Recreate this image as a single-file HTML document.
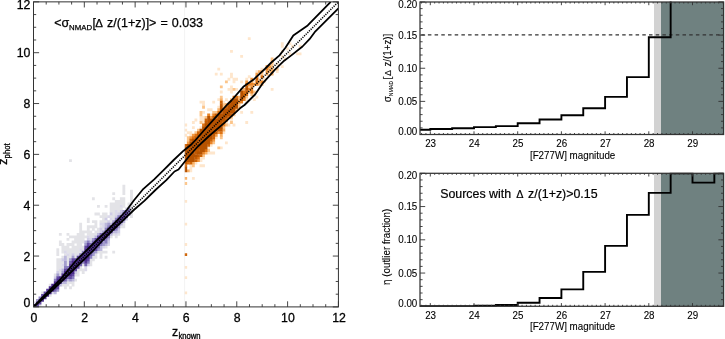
<!DOCTYPE html>
<html lang="en"><head><meta charset="utf-8"><title>Photometric redshift accuracy</title>
<style>html,body{margin:0;padding:0;background:#fff}svg{display:block;filter:blur(0.3px)}text{stroke:#000}</style></head>
<body>
<svg width="725" height="339" viewBox="0 0 725 339" font-family='"Liberation Sans", "DejaVu Sans", sans-serif' fill="#000">
<rect width="725" height="339" fill="#fff"/>
<g id="hist-purple"><path fill="#e3e3e7" d="M38.58 304.1h2.84v2.8h-2.84zM48.75 293.94h2.84v2.84h-2.84zM41.12 291.39h2.84v2.84h-2.84zM63.99 286.31h2.84v2.84h-2.84zM69.07 286.31h2.84v2.84h-2.84zM48.75 283.77h2.84v2.84h-2.84zM61.45 283.77h7.92v2.84h-7.92zM71.62 283.77h2.84v2.84h-2.84zM66.53 281.23h7.92v2.84h-7.92zM74.16 278.68h2.84v2.84h-2.84zM53.83 273.6h2.84v2.84h-2.84zM74.16 273.6h5.38v2.84h-5.38zM58.91 271.06h2.84v2.84h-2.84zM76.7 271.06h2.84v2.84h-2.84zM81.78 271.06h2.84v2.84h-2.84zM56.37 268.52h2.84v2.84h-2.84zM76.7 268.52h7.92v2.84h-7.92zM56.37 265.97h7.92v2.84h-7.92zM79.24 265.97h2.84v2.84h-2.84zM56.37 263.43h5.38v2.84h-5.38zM66.53 263.43h2.84v2.84h-2.84zM81.78 263.43h2.84v2.84h-2.84zM89.4 263.43h2.84v2.84h-2.84zM56.37 260.89h7.92v2.84h-7.92zM66.53 260.89h2.84v2.84h-2.84zM89.4 260.89h2.84v2.84h-2.84zM56.37 258.35h5.38v2.84h-5.38zM66.53 258.35h2.84v2.84h-2.84zM89.4 258.35h5.38v2.84h-5.38zM61.45 255.81h2.84v2.84h-2.84zM66.53 255.81h5.38v2.84h-5.38zM74.16 255.81h2.84v2.84h-2.84zM91.94 255.81h5.38v2.84h-5.38zM99.57 255.81h2.84v2.84h-2.84zM104.65 255.81h2.84v2.84h-2.84zM56.37 253.26h2.84v2.84h-2.84zM63.99 253.26h2.84v2.84h-2.84zM69.07 253.26h2.84v2.84h-2.84zM74.16 253.26h2.84v2.84h-2.84zM94.48 253.26h2.84v2.84h-2.84zM99.57 253.26h2.84v2.84h-2.84zM56.37 250.72h2.84v2.84h-2.84zM61.45 250.72h2.84v2.84h-2.84zM66.53 250.72h15.55v2.84h-15.55zM97.03 250.72h10.46v2.84h-10.46zM112.27 250.72h2.84v2.84h-2.84zM56.37 248.18h2.84v2.84h-2.84zM61.45 248.18h18.09v2.84h-18.09zM81.78 248.18h2.84v2.84h-2.84zM61.45 245.64h7.92v2.84h-7.92zM71.62 245.64h13v2.84h-13zM104.65 245.64h2.84v2.84h-2.84zM58.91 243.1h5.38v2.84h-5.38zM66.53 243.1h7.92v2.84h-7.92zM76.7 243.1h5.38v2.84h-5.38zM58.91 240.55h2.84v2.84h-2.84zM71.62 240.55h13v2.84h-13zM66.53 238.01h2.84v2.84h-2.84zM74.16 238.01h10.46v2.84h-10.46zM69.07 235.47h18.09v2.84h-18.09zM89.4 235.47h5.38v2.84h-5.38zM109.73 235.47h2.84v2.84h-2.84zM114.81 235.47h2.84v2.84h-2.84zM58.91 232.93h2.84v2.84h-2.84zM66.53 232.93h2.84v2.84h-2.84zM76.7 232.93h7.92v2.84h-7.92zM86.86 232.93h10.46v2.84h-10.46zM112.27 232.93h2.84v2.84h-2.84zM117.35 232.93h2.84v2.84h-2.84zM79.24 230.39h13v2.84h-13zM94.48 230.39h5.38v2.84h-5.38zM79.24 227.84h2.84v2.84h-2.84zM86.86 227.84h2.84v2.84h-2.84zM91.94 227.84h2.84v2.84h-2.84zM97.03 227.84h2.84v2.84h-2.84zM102.11 227.84h2.84v2.84h-2.84zM79.24 225.3h2.84v2.84h-2.84zM86.86 225.3h10.46v2.84h-10.46zM99.57 225.3h2.84v2.84h-2.84zM119.89 225.3h5.38v2.84h-5.38zM79.24 222.76h2.84v2.84h-2.84zM94.48 222.76h2.84v2.84h-2.84zM122.44 222.76h2.84v2.84h-2.84zM86.86 220.22h2.84v2.84h-2.84zM91.94 220.22h5.38v2.84h-5.38zM99.57 220.22h7.92v2.84h-7.92zM109.73 220.22h2.84v2.84h-2.84zM86.86 217.68h2.84v2.84h-2.84zM102.11 217.68h2.84v2.84h-2.84zM112.27 217.68h2.84v2.84h-2.84zM99.57 215.13h7.92v2.84h-7.92zM109.73 215.13h5.38v2.84h-5.38zM130.06 215.13h2.84v2.84h-2.84zM94.48 212.59h5.38v2.84h-5.38zM102.11 212.59h5.38v2.84h-5.38zM112.27 212.59h2.84v2.84h-2.84zM130.06 212.59h2.84v2.84h-2.84zM109.73 210.05h5.38v2.84h-5.38zM117.35 210.05h2.84v2.84h-2.84zM130.06 210.05h2.84v2.84h-2.84zM109.73 207.51h13v2.84h-13zM130.06 207.51h2.84v2.84h-2.84zM97.03 204.97h2.84v2.84h-2.84zM104.65 204.97h2.84v2.84h-2.84zM109.73 204.97h10.46v2.84h-10.46zM122.44 204.97h2.84v2.84h-2.84zM127.52 204.97h5.38v2.84h-5.38zM109.73 202.42h15.55v2.84h-15.55zM127.52 202.42h5.38v2.84h-5.38zM114.81 199.88h10.46v2.84h-10.46zM130.06 199.88h2.84v2.84h-2.84zM91.94 197.34h2.84v2.84h-2.84zM112.27 197.34h2.84v2.84h-2.84zM119.89 197.34h5.38v2.84h-5.38zM130.06 197.34h2.84v2.84h-2.84zM130.06 194.8h2.84v2.84h-2.84zM112.27 192.26h2.84v2.84h-2.84zM122.44 192.26h2.84v2.84h-2.84zM130.06 192.26h2.84v2.84h-2.84zM122.44 189.71h2.84v2.84h-2.84zM130.06 189.71h2.84v2.84h-2.84zM122.44 187.17h2.84v2.84h-2.84zM122.44 184.63h2.84v2.84h-2.84zM69.07 159.21h2.84v2.84h-2.84z"/><path fill="#dbd9ea" d="M33.5 301.56h2.84v2.84h-2.84zM51.29 291.39h2.84v2.84h-2.84zM58.91 273.6h2.84v2.84h-2.84zM58.91 268.52h2.84v2.84h-2.84zM84.32 268.52h2.84v2.84h-2.84zM84.32 265.97h2.84v2.84h-2.84zM61.45 263.43h2.84v2.84h-2.84zM66.53 253.26h2.84v2.84h-2.84zM76.7 253.26h2.84v2.84h-2.84zM63.99 250.72h2.84v2.84h-2.84zM79.24 248.18h2.84v2.84h-2.84zM102.11 245.64h2.84v2.84h-2.84zM107.19 243.1h2.84v2.84h-2.84zM89.4 238.01h2.84v2.84h-2.84zM86.86 235.47h2.84v2.84h-2.84zM114.81 232.93h2.84v2.84h-2.84zM102.11 225.3h2.84v2.84h-2.84zM99.57 222.76h5.38v2.84h-5.38zM109.73 217.68h2.84v2.84h-2.84zM107.19 215.13h2.84v2.84h-2.84zM114.81 212.59h2.84v2.84h-2.84zM114.81 210.05h2.84v2.84h-2.84zM124.98 207.51h2.84v2.84h-2.84zM119.89 204.97h2.84v2.84h-2.84z"/><path fill="#d0cde6" d="M53.83 276.14h2.84v2.84h-2.84zM56.37 271.06h2.84v2.84h-2.84zM74.16 271.06h2.84v2.84h-2.84zM86.86 263.43h2.84v2.84h-2.84zM61.45 258.35h2.84v2.84h-2.84zM71.62 253.26h2.84v2.84h-2.84zM107.19 240.55h2.84v2.84h-2.84zM86.86 238.01h2.84v2.84h-2.84zM99.57 230.39h2.84v2.84h-2.84zM117.35 230.39h2.84v2.84h-2.84zM99.57 227.84h2.84v2.84h-2.84zM117.35 227.84h2.84v2.84h-2.84zM107.19 220.22h2.84v2.84h-2.84zM104.65 217.68h2.84v2.84h-2.84zM124.98 217.68h2.84v2.84h-2.84zM114.81 215.13h2.84v2.84h-2.84zM109.73 212.59h2.84v2.84h-2.84zM117.35 212.59h2.84v2.84h-2.84zM119.89 210.05h2.84v2.84h-2.84z"/><path fill="#bcb8dc" d="M53.83 291.39h2.84v2.84h-2.84zM58.91 283.77h2.84v2.84h-2.84zM61.45 281.23h5.38v2.84h-5.38zM66.53 278.68h2.84v2.84h-2.84zM71.62 278.68h2.84v2.84h-2.84zM61.45 268.52h2.84v2.84h-2.84zM63.99 258.35h2.84v2.84h-2.84zM63.99 255.81h2.84v2.84h-2.84zM99.57 248.18h2.84v2.84h-2.84zM99.57 245.64h2.84v2.84h-2.84zM104.65 243.1h2.84v2.84h-2.84zM84.32 240.55h2.84v2.84h-2.84zM89.4 240.55h2.84v2.84h-2.84zM107.19 238.01h2.84v2.84h-2.84zM94.48 235.47h2.84v2.84h-2.84zM97.03 232.93h2.84v2.84h-2.84zM109.73 232.93h2.84v2.84h-2.84zM112.27 230.39h5.38v2.84h-5.38zM104.65 225.3h2.84v2.84h-2.84zM104.65 222.76h2.84v2.84h-2.84zM109.73 222.76h2.84v2.84h-2.84zM119.89 222.76h2.84v2.84h-2.84zM122.44 220.22h2.84v2.84h-2.84zM119.89 212.59h2.84v2.84h-2.84z"/><path fill="#a39dcd" d="M36.04 299.02h2.84v2.84h-2.84zM56.37 288.85h2.84v2.84h-2.84zM69.07 278.68h2.84v2.84h-2.84zM56.37 273.6h2.84v2.84h-2.84zM61.45 271.06h2.84v2.84h-2.84zM63.99 263.43h2.84v2.84h-2.84zM63.99 260.89h2.84v2.84h-2.84zM69.07 258.35h2.84v2.84h-2.84zM71.62 255.81h2.84v2.84h-2.84zM91.94 253.26h2.84v2.84h-2.84zM94.48 250.72h2.84v2.84h-2.84zM97.03 248.18h2.84v2.84h-2.84zM84.32 243.1h2.84v2.84h-2.84zM102.11 243.1h2.84v2.84h-2.84zM102.11 240.55h2.84v2.84h-2.84zM91.94 238.01h2.84v2.84h-2.84zM102.11 230.39h2.84v2.84h-2.84zM117.35 225.3h2.84v2.84h-2.84zM107.19 222.76h2.84v2.84h-2.84zM112.27 220.22h2.84v2.84h-2.84zM122.44 210.05h2.84v2.84h-2.84z"/><path fill="#8a80bf" d="M38.58 296.48h2.84v2.84h-2.84zM53.83 278.68h2.84v2.84h-2.84zM71.62 276.14h2.84v2.84h-2.84zM63.99 265.97h5.38v2.84h-5.38zM81.78 260.89h2.84v2.84h-2.84zM86.86 260.89h2.84v2.84h-2.84zM89.4 255.81h2.84v2.84h-2.84zM79.24 253.26h2.84v2.84h-2.84zM81.78 250.72h2.84v2.84h-2.84zM91.94 250.72h2.84v2.84h-2.84zM99.57 243.1h2.84v2.84h-2.84zM86.86 240.55h2.84v2.84h-2.84zM104.65 240.55h2.84v2.84h-2.84zM104.65 238.01h2.84v2.84h-2.84zM107.19 235.47h2.84v2.84h-2.84zM104.65 227.84h2.84v2.84h-2.84zM114.81 227.84h2.84v2.84h-2.84zM107.19 225.3h2.84v2.84h-2.84zM114.81 217.68h2.84v2.84h-2.84zM117.35 215.13h2.84v2.84h-2.84zM127.52 212.59h2.84v2.84h-2.84zM127.52 207.51h2.84v2.84h-2.84z"/><path fill="#7565b0" d="M33.5 306.65h2.84v0.25h-2.84zM53.83 288.85h2.84v2.84h-2.84zM63.99 278.68h2.84v2.84h-2.84zM66.53 276.14h2.84v2.84h-2.84zM79.24 263.43h2.84v2.84h-2.84zM84.32 263.43h2.84v2.84h-2.84zM69.07 260.89h2.84v2.84h-2.84zM89.4 253.26h2.84v2.84h-2.84zM97.03 245.64h2.84v2.84h-2.84zM89.4 243.1h2.84v2.84h-2.84zM91.94 240.55h2.84v2.84h-2.84zM99.57 232.93h2.84v2.84h-2.84zM127.52 210.05h2.84v2.84h-2.84z"/><path fill="#634ba2" d="M36.04 304.1h2.84v2.8h-2.84zM38.58 301.56h2.84v2.84h-2.84zM41.12 293.94h2.84v2.84h-2.84zM43.66 291.39h2.84v2.84h-2.84zM56.37 286.31h2.84v2.84h-2.84zM56.37 276.14h2.84v2.84h-2.84zM69.07 276.14h2.84v2.84h-2.84zM71.62 273.6h2.84v2.84h-2.84zM63.99 268.52h2.84v2.84h-2.84zM74.16 268.52h2.84v2.84h-2.84zM76.7 265.97h2.84v2.84h-2.84zM71.62 258.35h5.38v2.84h-5.38zM86.86 258.35h2.84v2.84h-2.84zM76.7 255.81h2.84v2.84h-2.84zM94.48 248.18h2.84v2.84h-2.84zM84.32 245.64h2.84v2.84h-2.84zM86.86 243.1h2.84v2.84h-2.84zM94.48 238.01h2.84v2.84h-2.84zM97.03 235.47h2.84v2.84h-2.84zM122.44 217.68h2.84v2.84h-2.84zM124.98 215.13h2.84v2.84h-2.84zM122.44 212.59h2.84v2.84h-2.84zM124.98 210.05h2.84v2.84h-2.84z"/><path fill="#553894" d="M41.12 299.02h2.84v2.84h-2.84zM43.66 296.48h2.84v2.84h-2.84zM46.2 288.85h2.84v2.84h-2.84zM69.07 263.43h2.84v2.84h-2.84zM84.32 260.89h2.84v2.84h-2.84zM117.35 222.76h2.84v2.84h-2.84zM119.89 220.22h2.84v2.84h-2.84zM119.89 215.13h2.84v2.84h-2.84zM124.98 212.59h2.84v2.84h-2.84z"/><path fill="#4a2b8a" d="M33.5 304.1h2.84v2.8h-2.84zM36.04 301.56h2.84v2.84h-2.84zM38.58 299.02h2.84v2.84h-2.84zM41.12 296.48h2.84v2.84h-2.84zM43.66 293.94h5.38v2.84h-5.38zM46.2 291.39h5.38v2.84h-5.38zM48.75 288.85h5.38v2.84h-5.38zM48.75 286.31h7.92v2.84h-7.92zM51.29 283.77h7.92v2.84h-7.92zM53.83 281.23h7.92v2.84h-7.92zM56.37 278.68h7.92v2.84h-7.92zM58.91 276.14h7.92v2.84h-7.92zM61.45 273.6h10.46v2.84h-10.46zM63.99 271.06h10.46v2.84h-10.46zM66.53 268.52h7.92v2.84h-7.92zM69.07 265.97h7.92v2.84h-7.92zM71.62 263.43h7.92v2.84h-7.92zM71.62 260.89h10.46v2.84h-10.46zM76.7 258.35h10.46v2.84h-10.46zM79.24 255.81h10.46v2.84h-10.46zM81.78 253.26h7.92v2.84h-7.92zM84.32 250.72h7.92v2.84h-7.92zM84.32 248.18h10.46v2.84h-10.46zM86.86 245.64h10.46v2.84h-10.46zM91.94 243.1h7.92v2.84h-7.92zM94.48 240.55h7.92v2.84h-7.92zM97.03 238.01h7.92v2.84h-7.92zM99.57 235.47h7.92v2.84h-7.92zM102.11 232.93h7.92v2.84h-7.92zM104.65 230.39h7.92v2.84h-7.92zM107.19 227.84h7.92v2.84h-7.92zM109.73 225.3h7.92v2.84h-7.92zM112.27 222.76h5.38v2.84h-5.38zM114.81 220.22h5.38v2.84h-5.38zM117.35 217.68h5.38v2.84h-5.38zM122.44 215.13h2.84v2.84h-2.84z"/></g>
<g id="hist-orange"><path fill="#fee6cc" d="M184.31 291.39h2.84v2.84h-2.84zM184.31 276.14h2.84v2.84h-2.84zM184.31 265.97h2.84v2.84h-2.84zM184.31 243.1h2.84v2.84h-2.84zM184.31 222.76h2.84v2.84h-2.84zM184.31 199.88h2.84v2.84h-2.84zM191.93 177h2.84v2.84h-2.84zM189.39 169.38h2.84v2.84h-2.84zM189.39 166.84h2.84v2.84h-2.84zM189.39 164.29h2.84v2.84h-2.84zM199.55 164.29h5.38v2.84h-5.38zM194.47 161.75h2.84v2.84h-2.84zM199.55 159.21h2.84v2.84h-2.84zM199.55 156.67h5.38v2.84h-5.38zM207.18 151.58h7.92v2.84h-7.92zM207.18 146.5h2.84v2.84h-2.84zM219.88 146.5h2.84v2.84h-2.84zM209.72 143.96h2.84v2.84h-2.84zM224.96 141.42h2.84v2.84h-2.84zM214.8 136.33h2.84v2.84h-2.84zM184.31 133.79h2.84v2.84h-2.84zM189.39 133.79h2.84v2.84h-2.84zM186.85 131.25h5.38v2.84h-5.38zM222.42 131.25h2.84v2.84h-2.84zM184.31 128.71h2.84v2.84h-2.84zM191.93 126.16h2.84v2.84h-2.84zM199.55 126.16h2.84v2.84h-2.84zM184.31 123.62h2.84v2.84h-2.84zM227.51 123.62h2.84v2.84h-2.84zM232.59 123.62h2.84v2.84h-2.84zM191.93 121.08h2.84v2.84h-2.84zM202.1 121.08h2.84v2.84h-2.84zM224.96 121.08h2.84v2.84h-2.84zM245.29 121.08h2.84v2.84h-2.84zM194.47 118.54h2.84v2.84h-2.84zM199.55 118.54h5.38v2.84h-5.38zM230.05 118.54h2.84v2.84h-2.84zM199.55 116h5.38v2.84h-5.38zM209.72 113.45h2.84v2.84h-2.84zM202.1 110.91h2.84v2.84h-2.84zM240.21 110.91h2.84v2.84h-2.84zM250.37 110.91h2.84v2.84h-2.84zM207.18 108.37h5.38v2.84h-5.38zM217.34 105.83h2.84v2.84h-2.84zM202.1 103.29h2.84v2.84h-2.84zM199.55 100.74h5.38v2.84h-5.38zM212.26 100.74h2.84v2.84h-2.84zM222.42 100.74h2.84v2.84h-2.84zM227.51 100.74h2.84v2.84h-2.84zM245.29 100.74h2.84v2.84h-2.84zM217.34 98.2h2.84v2.84h-2.84zM224.96 98.2h2.84v2.84h-2.84zM245.29 98.2h2.84v2.84h-2.84zM252.92 98.2h2.84v2.84h-2.84zM255.46 95.66h2.84v2.84h-2.84zM219.88 90.58h2.84v2.84h-2.84zM230.05 90.58h2.84v2.84h-2.84zM227.51 88.03h5.38v2.84h-5.38zM235.13 88.03h2.84v2.84h-2.84zM270.7 88.03h2.84v2.84h-2.84zM230.05 85.49h2.84v2.84h-2.84zM232.59 80.41h2.84v2.84h-2.84zM240.21 80.41h2.84v2.84h-2.84zM252.92 80.41h2.84v2.84h-2.84zM263.08 80.41h2.84v2.84h-2.84zM227.51 77.87h2.84v2.84h-2.84zM232.59 77.87h5.38v2.84h-5.38zM245.29 77.87h2.84v2.84h-2.84zM258 77.87h7.92v2.84h-7.92zM230.05 75.32h2.84v2.84h-2.84zM247.83 75.32h2.84v2.84h-2.84zM214.8 72.78h2.84v2.84h-2.84zM219.88 72.78h2.84v2.84h-2.84zM230.05 72.78h2.84v2.84h-2.84zM255.46 70.24h2.84v2.84h-2.84zM275.78 70.24h2.84v2.84h-2.84zM217.34 67.7h2.84v2.84h-2.84zM260.54 67.7h2.84v2.84h-2.84zM280.87 65.16h2.84v2.84h-2.84zM275.78 62.61h2.84v2.84h-2.84zM283.41 57.53h2.84v2.84h-2.84zM240.21 54.99h2.84v2.84h-2.84zM280.87 54.99h2.84v2.84h-2.84zM288.49 52.45h2.84v2.84h-2.84zM296.11 52.45h5.38v2.84h-5.38zM230.05 49.9h2.84v2.84h-2.84zM280.87 49.9h2.84v2.84h-2.84zM285.95 47.36h2.84v2.84h-2.84zM280.87 44.82h2.84v2.84h-2.84zM291.03 44.82h2.84v2.84h-2.84zM298.65 44.82h2.84v2.84h-2.84zM280.87 42.28h2.84v2.84h-2.84zM288.49 42.28h2.84v2.84h-2.84zM247.83 37.19h2.84v2.84h-2.84z"/><path fill="#fcc58a" d="M184.31 182.09h2.84v2.84h-2.84zM191.93 164.29h2.84v2.84h-2.84zM202.1 154.13h2.84v2.84h-2.84zM207.18 149.04h2.84v2.84h-2.84zM217.34 146.5h2.84v2.84h-2.84zM212.26 141.42h2.84v2.84h-2.84zM186.85 138.87h2.84v2.84h-2.84zM186.85 136.33h2.84v2.84h-2.84zM219.88 136.33h2.84v2.84h-2.84zM194.47 131.25h2.84v2.84h-2.84zM197.01 128.71h2.84v2.84h-2.84zM222.42 126.16h2.84v2.84h-2.84zM224.96 123.62h2.84v2.84h-2.84zM199.55 121.08h2.84v2.84h-2.84zM230.05 121.08h2.84v2.84h-2.84zM204.64 116h2.84v2.84h-2.84zM230.05 116h2.84v2.84h-2.84zM199.55 113.45h2.84v2.84h-2.84zM232.59 113.45h2.84v2.84h-2.84zM199.55 110.91h2.84v2.84h-2.84zM212.26 110.91h5.38v2.84h-5.38zM202.1 105.83h2.84v2.84h-2.84zM222.42 105.83h2.84v2.84h-2.84zM237.67 105.83h2.84v2.84h-2.84zM222.42 103.29h2.84v2.84h-2.84zM237.67 103.29h2.84v2.84h-2.84zM230.05 98.2h2.84v2.84h-2.84zM219.88 95.66h2.84v2.84h-2.84zM245.29 95.66h2.84v2.84h-2.84zM250.37 93.12h2.84v2.84h-2.84zM247.83 90.58h2.84v2.84h-2.84zM252.92 90.58h2.84v2.84h-2.84zM232.59 88.03h2.84v2.84h-2.84zM240.21 88.03h2.84v2.84h-2.84zM219.88 85.49h2.84v2.84h-2.84zM247.83 85.49h2.84v2.84h-2.84zM258 82.95h2.84v2.84h-2.84zM224.96 80.41h2.84v2.84h-2.84zM260.54 72.78h2.84v2.84h-2.84zM268.16 70.24h2.84v2.84h-2.84zM268.16 67.7h2.84v2.84h-2.84zM275.78 67.7h2.84v2.84h-2.84zM270.7 65.16h2.84v2.84h-2.84zM270.7 62.61h2.84v2.84h-2.84zM270.7 57.53h2.84v2.84h-2.84z"/><path fill="#f8b066" d="M184.31 177h2.84v2.84h-2.84zM186.85 169.38h2.84v2.84h-2.84zM191.93 161.75h2.84v2.84h-2.84zM204.64 151.58h2.84v2.84h-2.84zM219.88 133.79h2.84v2.84h-2.84zM222.42 128.71h2.84v2.84h-2.84zM217.34 108.37h2.84v2.84h-2.84zM235.13 108.37h2.84v2.84h-2.84zM224.96 103.29h2.84v2.84h-2.84zM219.88 98.2h2.84v2.84h-2.84zM237.67 98.2h2.84v2.84h-2.84zM237.67 95.66h2.84v2.84h-2.84zM242.75 88.03h2.84v2.84h-2.84zM260.54 82.95h2.84v2.84h-2.84zM250.37 80.41h2.84v2.84h-2.84zM258 80.41h2.84v2.84h-2.84zM265.62 72.78h2.84v2.84h-2.84zM270.7 72.78h2.84v2.84h-2.84zM258 70.24h5.38v2.84h-5.38zM270.7 70.24h2.84v2.84h-2.84zM270.7 67.7h2.84v2.84h-2.84zM270.7 60.07h2.84v2.84h-2.84z"/><path fill="#f29a44" d="M197.01 159.21h2.84v2.84h-2.84zM186.85 141.42h2.84v2.84h-2.84zM212.26 138.87h2.84v2.84h-2.84zM189.39 136.33h2.84v2.84h-2.84zM191.93 133.79h2.84v2.84h-2.84zM214.8 133.79h2.84v2.84h-2.84zM217.34 131.25h2.84v2.84h-2.84zM209.72 116h2.84v2.84h-2.84zM250.37 85.49h2.84v2.84h-2.84zM252.92 82.95h2.84v2.84h-2.84zM245.29 80.41h2.84v2.84h-2.84zM250.37 77.87h2.84v2.84h-2.84zM255.46 72.78h2.84v2.84h-2.84zM265.62 70.24h2.84v2.84h-2.84zM268.16 65.16h2.84v2.84h-2.84z"/><path fill="#ea8426" d="M202.1 151.58h2.84v2.84h-2.84zM209.72 141.42h2.84v2.84h-2.84zM222.42 123.62h2.84v2.84h-2.84zM207.18 113.45h2.84v2.84h-2.84zM212.26 113.45h2.84v2.84h-2.84zM237.67 100.74h5.38v2.84h-5.38zM242.75 98.2h2.84v2.84h-2.84zM250.37 90.58h2.84v2.84h-2.84zM247.83 88.03h5.38v2.84h-5.38zM247.83 82.95h5.38v2.84h-5.38zM255.46 82.95h2.84v2.84h-2.84zM260.54 80.41h2.84v2.84h-2.84zM255.46 75.32h2.84v2.84h-2.84zM265.62 67.7h2.84v2.84h-2.84zM265.62 65.16h2.84v2.84h-2.84z"/><path fill="#de7212" d="M184.31 164.29h2.84v2.84h-2.84zM186.85 161.75h2.84v2.84h-2.84zM197.01 156.67h2.84v2.84h-2.84zM204.64 149.04h2.84v2.84h-2.84zM191.93 136.33h2.84v2.84h-2.84zM194.47 133.79h2.84v2.84h-2.84zM219.88 131.25h2.84v2.84h-2.84zM202.1 123.62h2.84v2.84h-2.84zM227.51 116h2.84v2.84h-2.84zM217.34 110.91h2.84v2.84h-2.84zM232.59 95.66h5.38v2.84h-5.38zM245.29 93.12h2.84v2.84h-2.84zM242.75 90.58h2.84v2.84h-2.84zM255.46 80.41h2.84v2.84h-2.84zM260.54 75.32h2.84v2.84h-2.84z"/><path fill="#cf6406" d="M184.31 253.26h2.84v2.84h-2.84zM189.39 161.75h2.84v2.84h-2.84zM194.47 159.21h2.84v2.84h-2.84zM199.55 154.13h2.84v2.84h-2.84zM184.31 143.96h2.84v2.84h-2.84zM207.18 143.96h2.84v2.84h-2.84zM189.39 138.87h2.84v2.84h-2.84zM209.72 138.87h2.84v2.84h-2.84zM197.01 136.33h2.84v2.84h-2.84zM212.26 136.33h2.84v2.84h-2.84zM197.01 131.25h2.84v2.84h-2.84zM204.64 118.54h2.84v2.84h-2.84zM224.96 118.54h2.84v2.84h-2.84zM219.88 100.74h2.84v2.84h-2.84zM242.75 95.66h2.84v2.84h-2.84zM242.75 93.12h2.84v2.84h-2.84zM245.29 82.95h2.84v2.84h-2.84zM255.46 77.87h2.84v2.84h-2.84z"/><path fill="#c25a02" d="M184.31 161.75h2.84v2.84h-2.84zM194.47 156.67h2.84v2.84h-2.84zM197.01 154.13h2.84v2.84h-2.84zM194.47 151.58h2.84v2.84h-2.84zM194.47 149.04h5.38v2.84h-5.38zM197.01 141.42h2.84v2.84h-2.84zM194.47 136.33h2.84v2.84h-2.84zM197.01 133.79h2.84v2.84h-2.84zM212.26 133.79h2.84v2.84h-2.84zM214.8 131.25h2.84v2.84h-2.84zM217.34 128.71h5.38v2.84h-5.38zM219.88 123.62h2.84v2.84h-2.84zM204.64 121.08h2.84v2.84h-2.84zM222.42 121.08h2.84v2.84h-2.84zM212.26 116h5.38v2.84h-5.38zM214.8 113.45h2.84v2.84h-2.84zM230.05 113.45h2.84v2.84h-2.84zM219.88 110.91h2.84v2.84h-2.84zM224.96 105.83h2.84v2.84h-2.84zM219.88 103.29h2.84v2.84h-2.84zM227.51 103.29h2.84v2.84h-2.84zM245.29 90.58h2.84v2.84h-2.84zM245.29 85.49h2.84v2.84h-2.84z"/><path fill="#b65200" d="M184.31 169.38h2.84v2.84h-2.84zM184.31 166.84h2.84v2.84h-2.84zM184.31 159.21h10.46v2.84h-10.46zM184.31 156.67h10.46v2.84h-10.46zM184.31 154.13h13.01v2.84h-13.01zM184.31 151.58h10.46v2.84h-10.46zM197.01 151.58h5.38v2.84h-5.38zM184.31 149.04h10.46v2.84h-10.46zM199.55 149.04h5.38v2.84h-5.38zM184.31 146.5h23.17v2.84h-23.17zM186.85 143.96h20.63v2.84h-20.63zM189.39 141.42h7.92v2.84h-7.92zM199.55 141.42h10.46v2.84h-10.46zM191.93 138.87h18.09v2.84h-18.09zM199.55 136.33h13.01v2.84h-13.01zM199.55 133.79h13.01v2.84h-13.01zM199.55 131.25h15.55v2.84h-15.55zM199.55 128.71h18.09v2.84h-18.09zM202.1 126.16h20.63v2.84h-20.63zM204.64 123.62h15.55v2.84h-15.55zM207.18 121.08h15.55v2.84h-15.55zM207.18 118.54h18.09v2.84h-18.09zM207.18 116h2.84v2.84h-2.84zM217.34 116h10.46v2.84h-10.46zM217.34 113.45h13.01v2.84h-13.01zM222.42 110.91h13.01v2.84h-13.01zM219.88 108.37h15.55v2.84h-15.55zM219.88 105.83h2.84v2.84h-2.84zM227.51 105.83h10.46v2.84h-10.46zM230.05 103.29h7.92v2.84h-7.92zM230.05 100.74h7.92v2.84h-7.92zM232.59 98.2h5.38v2.84h-5.38zM240.21 98.2h2.84v2.84h-2.84zM240.21 95.66h2.84v2.84h-2.84zM240.21 93.12h2.84v2.84h-2.84zM240.21 90.58h2.84v2.84h-2.84zM245.29 88.03h2.84v2.84h-2.84z"/></g>
<line x1="184.6" y1="1.86" x2="184.6" y2="306.9" stroke="#efefef" stroke-width="0.8"/>
<clipPath id="cl"><rect x="33.5" y="1.86" width="304.92" height="305.04"/></clipPath>
<g clip-path="url(#cl)" fill="none" stroke="#000" stroke-linejoin="round">
<line x1="33.5" y1="306.9" x2="338.42" y2="1.86" stroke-width="1.55" stroke-dasharray="1.2 1.12"/>
<polyline stroke-width="1.8" points="33.5,306.9 40.5,299.5 49.5,290.5 59.9,280 68.2,270 76.6,260 87,250 97,240 107.6,230 117.7,220 126.8,210 134.2,200 142.6,189.7 154.2,179.4 164.1,169.6 173.7,160 183.6,150.7 191.6,144.2 195.6,140 204.3,130 215.4,117.7 226.8,105 231.9,100 243.3,86.8 254,79.2 264.8,69 271.3,62.5 279.5,55.4 285.4,47.7 293.3,35.4 307.7,25.4 330.7,1.8"/>
<polyline stroke-width="1.8" points="33.5,306.9 41.6,299.8 51.9,290.5 62.9,280 73.1,270 83.4,260 93.8,250 102.9,240 112.8,230 123.4,220 133.8,210 144.6,200.6 155.4,190 166.3,180.2 174.5,171.5 178.5,169.5 189.3,156 197.8,146.5 208.5,136.5 224.9,122.4 240,108.3 244.5,105 255.1,94.5 262.2,83.9 275.2,69.3 284.2,60.7 291.3,55.4 302.5,46.5 309.5,39.2 315.4,31.3 338.4,8.3"/>
</g>
<path d="M33.5 306.9v-5.6M33.5 1.86v5.6M33.5 306.9h5.6M338.42 306.9h-5.6M46.2 306.9v-2.7M46.2 1.86v2.7M33.5 294.19h2.7M338.42 294.19h-2.7M58.91 306.9v-2.7M58.91 1.86v2.7M33.5 281.48h2.7M338.42 281.48h-2.7M71.62 306.9v-2.7M71.62 1.86v2.7M33.5 268.77h2.7M338.42 268.77h-2.7M84.32 306.9v-5.6M84.32 1.86v5.6M33.5 256.06h5.6M338.42 256.06h-5.6M97.03 306.9v-2.7M97.03 1.86v2.7M33.5 243.35h2.7M338.42 243.35h-2.7M109.73 306.9v-2.7M109.73 1.86v2.7M33.5 230.64h2.7M338.42 230.64h-2.7M122.44 306.9v-2.7M122.44 1.86v2.7M33.5 217.93h2.7M338.42 217.93h-2.7M135.14 306.9v-5.6M135.14 1.86v5.6M33.5 205.22h5.6M338.42 205.22h-5.6M147.84 306.9v-2.7M147.84 1.86v2.7M33.5 192.51h2.7M338.42 192.51h-2.7M160.55 306.9v-2.7M160.55 1.86v2.7M33.5 179.8h2.7M338.42 179.8h-2.7M173.25 306.9v-2.7M173.25 1.86v2.7M33.5 167.09h2.7M338.42 167.09h-2.7M185.96 306.9v-5.6M185.96 1.86v5.6M33.5 154.38h5.6M338.42 154.38h-5.6M198.66 306.9v-2.7M198.66 1.86v2.7M33.5 141.67h2.7M338.42 141.67h-2.7M211.37 306.9v-2.7M211.37 1.86v2.7M33.5 128.96h2.7M338.42 128.96h-2.7M224.07 306.9v-2.7M224.07 1.86v2.7M33.5 116.25h2.7M338.42 116.25h-2.7M236.78 306.9v-5.6M236.78 1.86v5.6M33.5 103.54h5.6M338.42 103.54h-5.6M249.49 306.9v-2.7M249.49 1.86v2.7M33.5 90.83h2.7M338.42 90.83h-2.7M262.19 306.9v-2.7M262.19 1.86v2.7M33.5 78.12h2.7M338.42 78.12h-2.7M274.89 306.9v-2.7M274.89 1.86v2.7M33.5 65.41h2.7M338.42 65.41h-2.7M287.6 306.9v-5.6M287.6 1.86v5.6M33.5 52.7h5.6M338.42 52.7h-5.6M300.31 306.9v-2.7M300.31 1.86v2.7M33.5 39.99h2.7M338.42 39.99h-2.7M313.01 306.9v-2.7M313.01 1.86v2.7M33.5 27.28h2.7M338.42 27.28h-2.7M325.71 306.9v-2.7M325.71 1.86v2.7M33.5 14.57h2.7M338.42 14.57h-2.7M338.42 306.9v-5.6M338.42 1.86v5.6M33.5 1.86h5.6M338.42 1.86h-5.6" stroke="#333" stroke-width="0.9" fill="none"/>
<rect x="33.5" y="1.86" width="304.92" height="305.04" fill="none" stroke="#333" stroke-width="1"/>
<text transform="translate(33.8 322.1) scale(0.9 1)" font-size="13.67px" text-anchor="middle" stroke-width="0.3">0</text>
<text transform="translate(84.62 322.1) scale(0.9 1)" font-size="13.67px" text-anchor="middle" stroke-width="0.3">2</text>
<text transform="translate(135.44 322.1) scale(0.9 1)" font-size="13.67px" text-anchor="middle" stroke-width="0.3">4</text>
<text transform="translate(186.26 322.1) scale(0.9 1)" font-size="13.67px" text-anchor="middle" stroke-width="0.3">6</text>
<text transform="translate(237.08 322.1) scale(0.9 1)" font-size="13.67px" text-anchor="middle" stroke-width="0.3">8</text>
<text transform="translate(287.9 322.1) scale(0.9 1)" font-size="13.67px" text-anchor="middle" stroke-width="0.3">10</text>
<text transform="translate(339.02 322.1) scale(0.9 1)" font-size="13.67px" text-anchor="middle" stroke-width="0.3">12</text>
<text transform="translate(30.4 307) scale(0.9 1)" font-size="13.67px" text-anchor="end" stroke-width="0.3">0</text>
<text transform="translate(30.4 260.56) scale(0.9 1)" font-size="13.67px" text-anchor="end" stroke-width="0.3">2</text>
<text transform="translate(30.4 209.72) scale(0.9 1)" font-size="13.67px" text-anchor="end" stroke-width="0.3">4</text>
<text transform="translate(30.4 158.88) scale(0.9 1)" font-size="13.67px" text-anchor="end" stroke-width="0.3">6</text>
<text transform="translate(30.4 108.04) scale(0.9 1)" font-size="13.67px" text-anchor="end" stroke-width="0.3">8</text>
<text transform="translate(30.4 57.2) scale(0.9 1)" font-size="13.67px" text-anchor="end" stroke-width="0.3">10</text>
<text transform="translate(30.4 8.7) scale(0.9 1)" font-size="13.67px" text-anchor="end" stroke-width="0.3">12</text>
<text transform="translate(172 335.8) scale(0.9 1)" font-size="13.67px" text-anchor="start" stroke-width="0.3">z<tspan font-size="8.56px" dy="3.0" dx="0.3">known</tspan></text>
<text transform="translate(7.1 164.8) rotate(-90) scale(0.9 1)" font-size="13.67px" text-anchor="start" stroke-width="0.3">z<tspan font-size="8.56px" dy="3.0" dx="0.3">phot</tspan></text>
<text transform="translate(54.2 27) scale(1 1)" font-size="12.5px" text-anchor="start" stroke-width="0.25">&lt;σ<tspan font-size="7.7px" dy="3.2" x="14.9" textLength="23" lengthAdjust="spacingAndGlyphs">NMAD</tspan><tspan dy="-3.2" x="38.4">[</tspan><tspan x="41.1" font-size="11.5px">Δ</tspan><tspan x="52.9">z/(1+z)]&gt;</tspan><tspan x="106.2">=</tspan><tspan x="117.6">0.033</tspan></text>
<g id="p1">
<rect x="654" y="2" width="7" height="132.5" fill="#d2d2d2"/>
<rect x="661" y="2" width="62.6" height="132.5" fill="#6f8180"/>
<line x1="420" y1="34.8" x2="723.6" y2="34.8" stroke="#333" stroke-width="1.3" stroke-dasharray="3.5 3.2" stroke-dashoffset="-1.2"/>
<clipPath id="c1"><rect x="420" y="1.4" width="303.6" height="133.7"/></clipPath>
<polyline clip-path="url(#c1)" fill="none" stroke="#000" stroke-width="1.9" stroke-linejoin="miter" points="420,129.8 430.3,129.8 430.3,129 452.15,129 452.15,128.2 474,128.2 474,127.1 495.85,127.1 495.85,126.1 517.7,126.1 517.7,123.3 539.55,123.3 539.55,119.5 561.4,119.5 561.4,115.3 583.25,115.3 583.25,108.2 605.1,108.2 605.1,96.9 626.95,96.9 626.95,77.1 648.8,77.1 648.8,37.2 670.65,37.2 670.65,-1 723.6,-1"/>
<path d="M420 134.5h5.2M723.6 134.5h-5.2M420 127.88h2.6M723.6 127.88h-2.6M420 121.25h2.6M723.6 121.25h-2.6M420 114.62h2.6M723.6 114.62h-2.6M420 108h2.6M723.6 108h-2.6M420 101.38h5.2M723.6 101.38h-5.2M420 94.75h2.6M723.6 94.75h-2.6M420 88.12h2.6M723.6 88.12h-2.6M420 81.5h2.6M723.6 81.5h-2.6M420 74.88h2.6M723.6 74.88h-2.6M420 68.25h5.2M723.6 68.25h-5.2M420 61.62h2.6M723.6 61.62h-2.6M420 55h2.6M723.6 55h-2.6M420 48.38h2.6M723.6 48.38h-2.6M420 41.75h2.6M723.6 41.75h-2.6M420 35.12h5.2M723.6 35.12h-5.2M420 28.5h2.6M723.6 28.5h-2.6M420 21.88h2.6M723.6 21.88h-2.6M420 15.25h2.6M723.6 15.25h-2.6M420 8.62h2.6M723.6 8.62h-2.6M420 2h5.2M723.6 2h-5.2M421.56 134.5v-1.5M421.56 2v1.5M425.93 134.5v-1.5M425.93 2v1.5M430.3 134.5v-3.2M430.3 2v3.2M434.67 134.5v-1.5M434.67 2v1.5M439.04 134.5v-1.5M439.04 2v1.5M443.41 134.5v-1.5M443.41 2v1.5M447.78 134.5v-1.5M447.78 2v1.5M452.15 134.5v-1.5M452.15 2v1.5M456.52 134.5v-1.5M456.52 2v1.5M460.89 134.5v-1.5M460.89 2v1.5M465.26 134.5v-1.5M465.26 2v1.5M469.63 134.5v-1.5M469.63 2v1.5M474 134.5v-3.2M474 2v3.2M478.37 134.5v-1.5M478.37 2v1.5M482.74 134.5v-1.5M482.74 2v1.5M487.11 134.5v-1.5M487.11 2v1.5M491.48 134.5v-1.5M491.48 2v1.5M495.85 134.5v-1.5M495.85 2v1.5M500.22 134.5v-1.5M500.22 2v1.5M504.59 134.5v-1.5M504.59 2v1.5M508.96 134.5v-1.5M508.96 2v1.5M513.33 134.5v-1.5M513.33 2v1.5M517.7 134.5v-3.2M517.7 2v3.2M522.07 134.5v-1.5M522.07 2v1.5M526.44 134.5v-1.5M526.44 2v1.5M530.81 134.5v-1.5M530.81 2v1.5M535.18 134.5v-1.5M535.18 2v1.5M539.55 134.5v-1.5M539.55 2v1.5M543.92 134.5v-1.5M543.92 2v1.5M548.29 134.5v-1.5M548.29 2v1.5M552.66 134.5v-1.5M552.66 2v1.5M557.03 134.5v-1.5M557.03 2v1.5M561.4 134.5v-3.2M561.4 2v3.2M565.77 134.5v-1.5M565.77 2v1.5M570.14 134.5v-1.5M570.14 2v1.5M574.51 134.5v-1.5M574.51 2v1.5M578.88 134.5v-1.5M578.88 2v1.5M583.25 134.5v-1.5M583.25 2v1.5M587.62 134.5v-1.5M587.62 2v1.5M591.99 134.5v-1.5M591.99 2v1.5M596.36 134.5v-1.5M596.36 2v1.5M600.73 134.5v-1.5M600.73 2v1.5M605.1 134.5v-3.2M605.1 2v3.2M609.47 134.5v-1.5M609.47 2v1.5M613.84 134.5v-1.5M613.84 2v1.5M618.21 134.5v-1.5M618.21 2v1.5M622.58 134.5v-1.5M622.58 2v1.5M626.95 134.5v-1.5M626.95 2v1.5M631.32 134.5v-1.5M631.32 2v1.5M635.69 134.5v-1.5M635.69 2v1.5M640.06 134.5v-1.5M640.06 2v1.5M644.43 134.5v-1.5M644.43 2v1.5M648.8 134.5v-3.2M648.8 2v3.2M653.17 134.5v-1.5M653.17 2v1.5M657.54 134.5v-1.5M657.54 2v1.5M661.91 134.5v-1.5M661.91 2v1.5M666.28 134.5v-1.5M666.28 2v1.5M670.65 134.5v-1.5M670.65 2v1.5M675.02 134.5v-1.5M675.02 2v1.5M679.39 134.5v-1.5M679.39 2v1.5M683.76 134.5v-1.5M683.76 2v1.5M688.13 134.5v-1.5M688.13 2v1.5M692.5 134.5v-3.2M692.5 2v3.2M696.87 134.5v-1.5M696.87 2v1.5M701.24 134.5v-1.5M701.24 2v1.5M705.61 134.5v-1.5M705.61 2v1.5M709.98 134.5v-1.5M709.98 2v1.5M714.35 134.5v-1.5M714.35 2v1.5M718.72 134.5v-1.5M718.72 2v1.5M723.09 134.5v-1.5M723.09 2v1.5" stroke="#333" stroke-width="0.9" fill="none"/>
<rect x="420" y="2" width="303.6" height="132.5" fill="none" stroke="#333" stroke-width="1.25"/>
<text transform="translate(417.3 134.7) scale(0.9 1)" font-size="10.89px" text-anchor="end" stroke-width="0.1">0.00</text>
<text transform="translate(417.3 104.88) scale(0.9 1)" font-size="10.89px" text-anchor="end" stroke-width="0.1">0.05</text>
<text transform="translate(417.3 71.75) scale(0.9 1)" font-size="10.89px" text-anchor="end" stroke-width="0.1">0.10</text>
<text transform="translate(417.3 38.62) scale(0.9 1)" font-size="10.89px" text-anchor="end" stroke-width="0.1">0.15</text>
<text transform="translate(417.3 7.9) scale(0.9 1)" font-size="10.89px" text-anchor="end" stroke-width="0.1">0.20</text>
<text transform="translate(430.6 147.4) scale(0.9 1)" font-size="10.89px" text-anchor="middle" stroke-width="0.1">23</text>
<text transform="translate(474.3 147.4) scale(0.9 1)" font-size="10.89px" text-anchor="middle" stroke-width="0.1">24</text>
<text transform="translate(518 147.4) scale(0.9 1)" font-size="10.89px" text-anchor="middle" stroke-width="0.1">25</text>
<text transform="translate(561.7 147.4) scale(0.9 1)" font-size="10.89px" text-anchor="middle" stroke-width="0.1">26</text>
<text transform="translate(605.4 147.4) scale(0.9 1)" font-size="10.89px" text-anchor="middle" stroke-width="0.1">27</text>
<text transform="translate(649.1 147.4) scale(0.9 1)" font-size="10.89px" text-anchor="middle" stroke-width="0.1">28</text>
<text transform="translate(692.8 147.4) scale(0.9 1)" font-size="10.89px" text-anchor="middle" stroke-width="0.1">29</text>
<text transform="translate(572.6 158.6) scale(0.9 1)" font-size="10.89px" text-anchor="middle" stroke-width="0.1">[F277W] magnitude</text>
</g>
<g id="p2">
<rect x="654" y="173.3" width="7" height="133" fill="#d2d2d2"/>
<rect x="661" y="173.3" width="62.6" height="133" fill="#6f8180"/>

<clipPath id="c2"><rect x="420" y="172.7" width="303.6" height="134.2"/></clipPath>
<polyline clip-path="url(#c2)" fill="none" stroke="#000" stroke-width="1.9" stroke-linejoin="miter" points="420,306.2 474,306.2 474,305.7 495.85,305.7 495.85,305 517.7,305 517.7,302.7 539.55,302.7 539.55,298 561.4,298 561.4,289.4 583.25,289.4 583.25,271.9 605.1,271.9 605.1,245.9 626.95,245.9 626.95,214.9 648.8,214.9 648.8,192.9 670.65,192.9 670.65,173.3 692.5,173.3 692.5,182.6 714.35,182.6 714.35,173.3 723.6,173.3"/>
<path d="M420 306.3h5.2M723.6 306.3h-5.2M420 299.65h2.6M723.6 299.65h-2.6M420 293h2.6M723.6 293h-2.6M420 286.35h2.6M723.6 286.35h-2.6M420 279.7h2.6M723.6 279.7h-2.6M420 273.05h5.2M723.6 273.05h-5.2M420 266.4h2.6M723.6 266.4h-2.6M420 259.75h2.6M723.6 259.75h-2.6M420 253.1h2.6M723.6 253.1h-2.6M420 246.45h2.6M723.6 246.45h-2.6M420 239.8h5.2M723.6 239.8h-5.2M420 233.15h2.6M723.6 233.15h-2.6M420 226.5h2.6M723.6 226.5h-2.6M420 219.85h2.6M723.6 219.85h-2.6M420 213.2h2.6M723.6 213.2h-2.6M420 206.55h5.2M723.6 206.55h-5.2M420 199.9h2.6M723.6 199.9h-2.6M420 193.25h2.6M723.6 193.25h-2.6M420 186.6h2.6M723.6 186.6h-2.6M420 179.95h2.6M723.6 179.95h-2.6M420 173.3h5.2M723.6 173.3h-5.2M421.56 306.3v-1.5M421.56 173.3v1.5M425.93 306.3v-1.5M425.93 173.3v1.5M430.3 306.3v-3.2M430.3 173.3v3.2M434.67 306.3v-1.5M434.67 173.3v1.5M439.04 306.3v-1.5M439.04 173.3v1.5M443.41 306.3v-1.5M443.41 173.3v1.5M447.78 306.3v-1.5M447.78 173.3v1.5M452.15 306.3v-1.5M452.15 173.3v1.5M456.52 306.3v-1.5M456.52 173.3v1.5M460.89 306.3v-1.5M460.89 173.3v1.5M465.26 306.3v-1.5M465.26 173.3v1.5M469.63 306.3v-1.5M469.63 173.3v1.5M474 306.3v-3.2M474 173.3v3.2M478.37 306.3v-1.5M478.37 173.3v1.5M482.74 306.3v-1.5M482.74 173.3v1.5M487.11 306.3v-1.5M487.11 173.3v1.5M491.48 306.3v-1.5M491.48 173.3v1.5M495.85 306.3v-1.5M495.85 173.3v1.5M500.22 306.3v-1.5M500.22 173.3v1.5M504.59 306.3v-1.5M504.59 173.3v1.5M508.96 306.3v-1.5M508.96 173.3v1.5M513.33 306.3v-1.5M513.33 173.3v1.5M517.7 306.3v-3.2M517.7 173.3v3.2M522.07 306.3v-1.5M522.07 173.3v1.5M526.44 306.3v-1.5M526.44 173.3v1.5M530.81 306.3v-1.5M530.81 173.3v1.5M535.18 306.3v-1.5M535.18 173.3v1.5M539.55 306.3v-1.5M539.55 173.3v1.5M543.92 306.3v-1.5M543.92 173.3v1.5M548.29 306.3v-1.5M548.29 173.3v1.5M552.66 306.3v-1.5M552.66 173.3v1.5M557.03 306.3v-1.5M557.03 173.3v1.5M561.4 306.3v-3.2M561.4 173.3v3.2M565.77 306.3v-1.5M565.77 173.3v1.5M570.14 306.3v-1.5M570.14 173.3v1.5M574.51 306.3v-1.5M574.51 173.3v1.5M578.88 306.3v-1.5M578.88 173.3v1.5M583.25 306.3v-1.5M583.25 173.3v1.5M587.62 306.3v-1.5M587.62 173.3v1.5M591.99 306.3v-1.5M591.99 173.3v1.5M596.36 306.3v-1.5M596.36 173.3v1.5M600.73 306.3v-1.5M600.73 173.3v1.5M605.1 306.3v-3.2M605.1 173.3v3.2M609.47 306.3v-1.5M609.47 173.3v1.5M613.84 306.3v-1.5M613.84 173.3v1.5M618.21 306.3v-1.5M618.21 173.3v1.5M622.58 306.3v-1.5M622.58 173.3v1.5M626.95 306.3v-1.5M626.95 173.3v1.5M631.32 306.3v-1.5M631.32 173.3v1.5M635.69 306.3v-1.5M635.69 173.3v1.5M640.06 306.3v-1.5M640.06 173.3v1.5M644.43 306.3v-1.5M644.43 173.3v1.5M648.8 306.3v-3.2M648.8 173.3v3.2M653.17 306.3v-1.5M653.17 173.3v1.5M657.54 306.3v-1.5M657.54 173.3v1.5M661.91 306.3v-1.5M661.91 173.3v1.5M666.28 306.3v-1.5M666.28 173.3v1.5M670.65 306.3v-1.5M670.65 173.3v1.5M675.02 306.3v-1.5M675.02 173.3v1.5M679.39 306.3v-1.5M679.39 173.3v1.5M683.76 306.3v-1.5M683.76 173.3v1.5M688.13 306.3v-1.5M688.13 173.3v1.5M692.5 306.3v-3.2M692.5 173.3v3.2M696.87 306.3v-1.5M696.87 173.3v1.5M701.24 306.3v-1.5M701.24 173.3v1.5M705.61 306.3v-1.5M705.61 173.3v1.5M709.98 306.3v-1.5M709.98 173.3v1.5M714.35 306.3v-1.5M714.35 173.3v1.5M718.72 306.3v-1.5M718.72 173.3v1.5M723.09 306.3v-1.5M723.09 173.3v1.5" stroke="#333" stroke-width="0.9" fill="none"/>
<rect x="420" y="173.3" width="303.6" height="133" fill="none" stroke="#333" stroke-width="1.25"/>
<text transform="translate(417.3 306.5) scale(0.9 1)" font-size="10.89px" text-anchor="end" stroke-width="0.1">0.00</text>
<text transform="translate(417.3 276.55) scale(0.9 1)" font-size="10.89px" text-anchor="end" stroke-width="0.1">0.05</text>
<text transform="translate(417.3 243.3) scale(0.9 1)" font-size="10.89px" text-anchor="end" stroke-width="0.1">0.10</text>
<text transform="translate(417.3 210.05) scale(0.9 1)" font-size="10.89px" text-anchor="end" stroke-width="0.1">0.15</text>
<text transform="translate(417.3 179.2) scale(0.9 1)" font-size="10.89px" text-anchor="end" stroke-width="0.1">0.20</text>
<text transform="translate(430.6 319.2) scale(0.9 1)" font-size="10.89px" text-anchor="middle" stroke-width="0.1">23</text>
<text transform="translate(474.3 319.2) scale(0.9 1)" font-size="10.89px" text-anchor="middle" stroke-width="0.1">24</text>
<text transform="translate(518 319.2) scale(0.9 1)" font-size="10.89px" text-anchor="middle" stroke-width="0.1">25</text>
<text transform="translate(561.7 319.2) scale(0.9 1)" font-size="10.89px" text-anchor="middle" stroke-width="0.1">26</text>
<text transform="translate(605.4 319.2) scale(0.9 1)" font-size="10.89px" text-anchor="middle" stroke-width="0.1">27</text>
<text transform="translate(649.1 319.2) scale(0.9 1)" font-size="10.89px" text-anchor="middle" stroke-width="0.1">28</text>
<text transform="translate(692.8 319.2) scale(0.9 1)" font-size="10.89px" text-anchor="middle" stroke-width="0.1">29</text>
<text transform="translate(572.6 330.4) scale(0.9 1)" font-size="10.89px" text-anchor="middle" stroke-width="0.1">[F277W] magnitude</text>
</g>
<text transform="translate(390.6 103) rotate(-90) scale(0.9 1)" font-size="10.89px" text-anchor="start" stroke-width="0.1"><tspan font-size="11.11px" x="0.9">σ</tspan><tspan font-size="5.78px" dy="2.7" x="7.44">NMAD</tspan><tspan dy="-2.7" x="26">[</tspan><tspan font-size="9.78px" x="30">Δ</tspan><tspan x="40.44">z/(1+z)]</tspan></text>
<text transform="translate(390.4 284.9) rotate(-90) scale(0.9 1)" font-size="10.89px" text-anchor="start" stroke-width="0.1">η (outlier fraction)</text>
<text transform="translate(440.2 198.4) scale(1 1)" font-size="12.4px" text-anchor="start" stroke-width="0.2">Sources with <tspan font-size="10.8px" x="76">Δ</tspan><tspan x="87.8">z/(1+z)&gt;0.15</tspan></text>
</svg>
</body></html>
